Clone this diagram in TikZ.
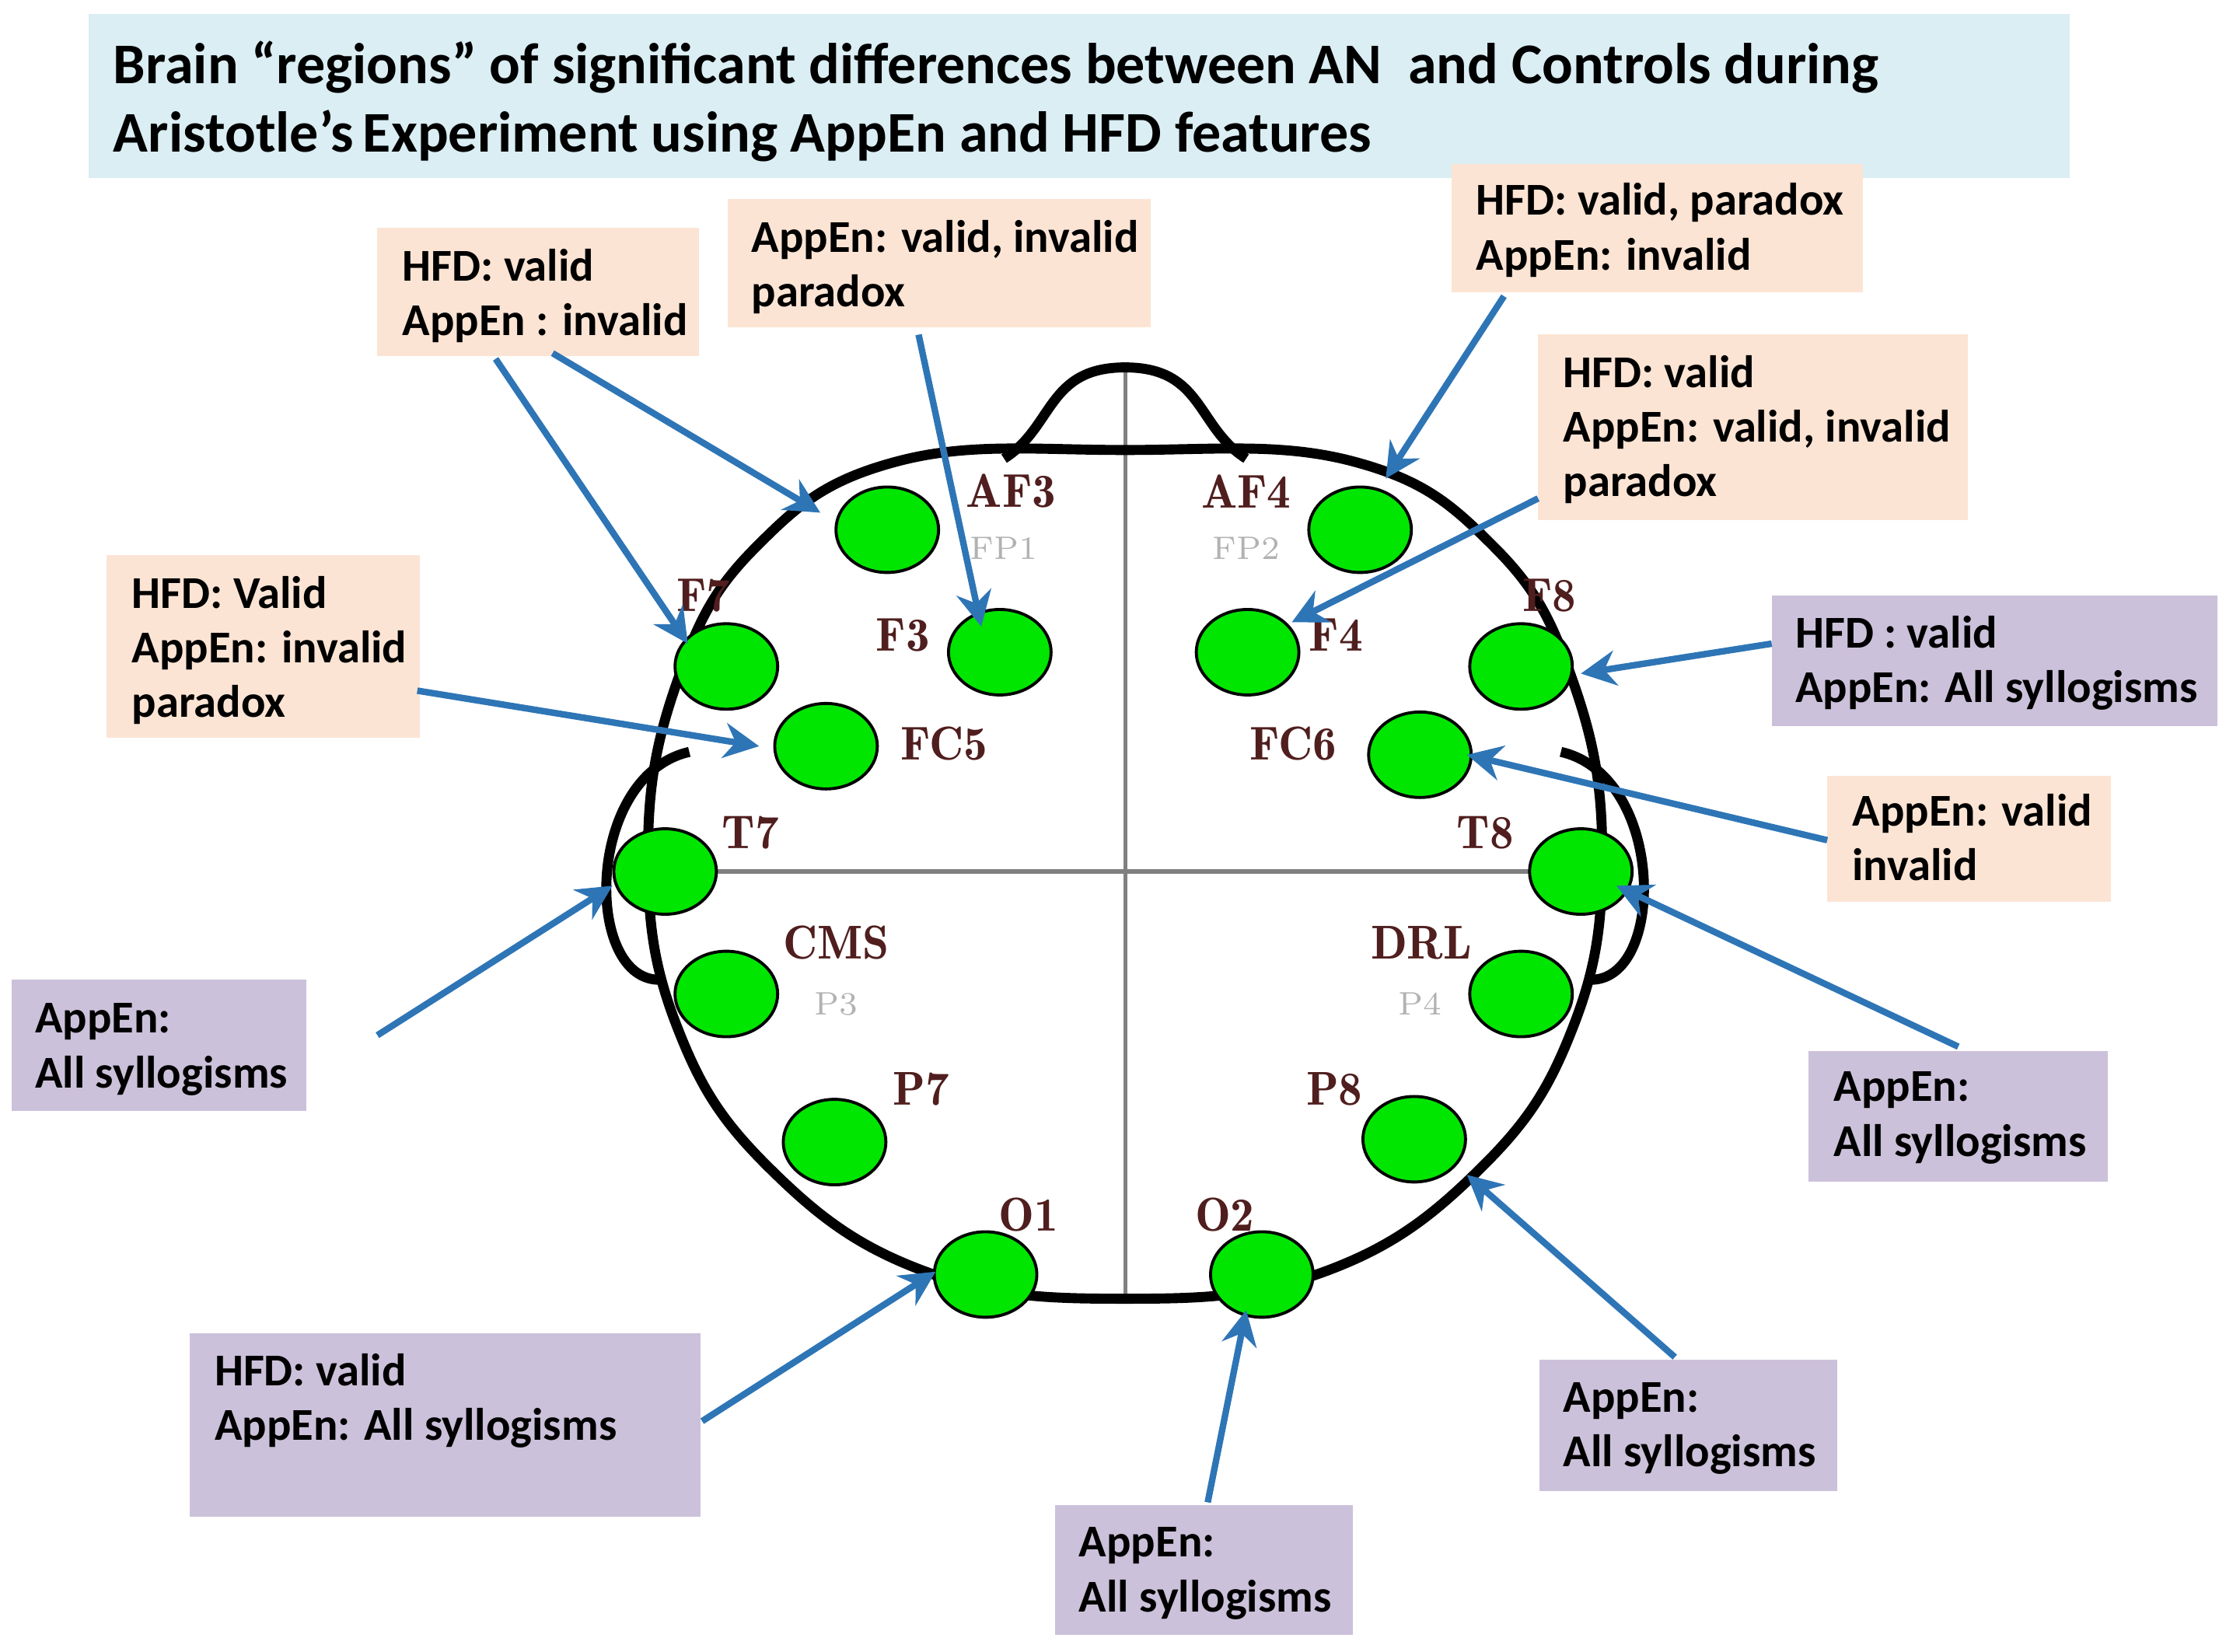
\documentclass[tikz,border=0pt]{standalone}
\usepackage{fontspec}
\setmainfont{Carlito}
\definecolor{peach}{RGB}{252,228,212}
\definecolor{lilac}{RGB}{204,193,218}
\definecolor{titlebg}{RGB}{218,238,243}
\definecolor{arrowblue}{RGB}{46,117,182}
\definecolor{elec}{RGB}{0,230,0}
\definecolor{lblred}{RGB}{80,30,30}
\begin{document}
\begin{tikzpicture}[x=0.01cm,y=-0.01cm,
  txt/.style={anchor=north west,align=left,font=\fontsize{9.1}{10.9}\selectfont\bfseries,inner sep=0pt},
  el/.style={ellipse,draw=black,line width=0.6pt,fill=elec,minimum width=0.72cm,minimum height=0.6cm,inner sep=0pt},
  lb/.style={font=\fontfamily{lmr}\fontsize{9.5}{10}\selectfont\bfseries,text=lblred,inner sep=0pt},
  lg/.style={font=\fontfamily{lmr}\fontsize{6.5}{7}\selectfont,text=gray!60,inner sep=0pt},
  arr/.style={draw=arrowblue,line width=1.3pt,-{Stealth[length=7pt,width=7pt]}}]
\usetikzlibrary{shapes.geometric,arrows.meta}
\useasboundingbox (0,0) rectangle (1563,1160);
% title
\fill[titlebg] (62,10) rectangle (1453,125);
\node[txt,font=\fontsize{11.5}{13.7}\selectfont\bfseries] (title) at (79,28)
  {Brain “regions” of significant differences between AN\ \ and Controls during\\Aristotle’s\,Experiment using AppEn and HFD features};
% head
\draw[gray,line width=0.8pt] (790,258) -- (790,912);
\draw[gray,line width=0.8pt] (455,612) -- (1125,612);
\draw[line width=2pt] (705,322) .. controls (740,300) and (735,258) .. (790,258) .. controls (845,258) and (840,300) .. (875,322);
\draw[line width=2pt] plot[smooth cycle,tension=0.7] coordinates {(790,316) (950,324) (1050,385) (1105,480) (1125,600) (1105,720) (1040,820) (930,893) (790,912) (650,893) (540,820) (475,720) (455,600) (475,480) (530,385) (630,324)};
\draw[line width=2pt] (484,528) .. controls (410,545) and (410,690) .. (464,688);
\draw[line width=2pt] (1096,528) .. controls (1170,545) and (1170,690) .. (1116,688);
% electrodes
\foreach \n/\x/\y in {AF3/623/372,AF4/955/372,F7/510/468,F3/702/458,F4/876/458,F8/1068/468,FC5/580/524,FC6/997/530,T7/467/612,T8/1110/612,CMS/510/698,DRL/1068/698,P7/586/802,P8/993/800,O1/692/895,O2/886/895}
  \node[el] (e\n) at (\x,\y) {};
\foreach \t/\x/\y in {AF3/710/345,AF4/875/345,F7/494/418,F3/634/446,F4/938/446,F8/1088/418,FC5/663/522,FC6/908/522,T7/527/585,T8/1043/585,CMS/587/662,DRL/998/662,P7/647/765,P8/937/765,O1/722/853,O2/860/853}
  \node[lb] (l\t) at (\x,\y) {\t};
\foreach \t/\x/\y in {FP1/705/385,FP2/875/385,P3/587/705,P4/997/705}
  \node[lg] (g\t) at (\x,\y) {\t};
% boxes
\fill[peach] (265,160) rectangle (491,250);
\node[txt] (b1) at (282,174) {HFD: valid\\AppEn : invalid};
\fill[peach] (511,140) rectangle (808,230);
\node[txt] (b2) at (527,154) {AppEn: valid, invalid\\paradox};
\fill[peach] (1019,115) rectangle (1308,205);
\node[txt] (b3) at (1036,128) {HFD: valid, paradox\\AppEn: invalid};
\fill[peach] (1080,235) rectangle (1382,365);
\node[txt] (b4) at (1097,249) {HFD: valid\\AppEn: valid, invalid\\paradox};
\fill[peach] (75,390) rectangle (295,518);
\node[txt] (b5) at (92,404) {HFD: Valid\\AppEn: invalid\\paradox};
\fill[lilac] (1244,418) rectangle (1557,510);
\node[txt] (b6) at (1260,432) {HFD : valid\\AppEn: All syllogisms};
\fill[peach] (1283,545) rectangle (1482,633);
\node[txt] (b7) at (1300,557) {AppEn: valid\\invalid};
\fill[lilac] (8,688) rectangle (215,780);
\node[txt] (b8) at (24,704) {AppEn:\\All syllogisms};
\fill[lilac] (1270,738) rectangle (1480,830);
\node[txt] (b9) at (1287,752) {AppEn:\\All syllogisms};
\fill[lilac] (133,936) rectangle (492,1065);
\node[txt] (b10) at (150,950) {HFD: valid\\AppEn: All syllogisms};
\fill[lilac] (1081,955) rectangle (1290,1047);
\node[txt] (b11) at (1097,970) {AppEn:\\All syllogisms};
\fill[lilac] (741,1057) rectangle (950,1148);
\node[txt] (b12) at (757,1072) {AppEn:\\All syllogisms};
% arrow ends
\foreach \n/\x/\y in {s1a/348/252,t1a/483/452,s1b/388/248,t1b/576/360,s2/645/235,t2/689/440,s3/1056/208,t3/973/336,s4/1080/350,t4/907/437,s5/293/485,t5/533/524,s6/1244/452,t6/1110/473,s7/1283/590,t7/1030/530,s8/265/727,t8/430/622,s9/1375/735,t9/1135/622,s10/493/998,t10/657/893,s11/1176/953,t11/1030/825,s12/848/1055,t12/875/920}
  \coordinate (\n) at (\x,\y);
\foreach \i in {1a,1b,2,3,4,5,6,7,8,9,10,11,12}
  \draw[arr] (s\i) -- (t\i);
\end{tikzpicture}
\end{document}
